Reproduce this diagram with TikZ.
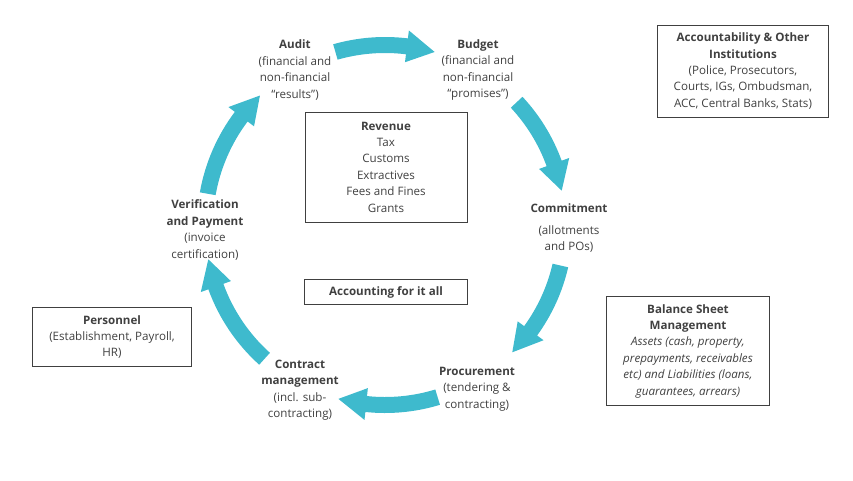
\documentclass[tikz,border=0pt]{standalone}
\usepackage{fontspec}
\setmainfont{Open Sans}
\definecolor{cyc}{RGB}{62,186,205}
\definecolor{txt}{RGB}{64,64,64}
\newcommand\cycarrow[2]{% clockwise from angle #1 to tip angle #2
  \pgfmathsetmacro\hb{#2+9}
  \fill[cyc] (#1:172) arc[start angle=#1,end angle=\hb,radius=172] -- (\hb:164) -- (#2:180)
    -- (\hb:196) -- (\hb:188) arc[start angle=\hb,end angle=#1,radius=188] -- cycle;}
\begin{document}
\begin{tikzpicture}[x=1pt,y=-1pt,
  lbl/.style={text=txt,font=\fontsize{11.6}{16.4}\selectfont,align=center,inner sep=0pt},
  box/.style={draw=txt,line width=0.8pt}]
\useasboundingbox (0,0) rectangle (853,480);
% cycle arrows
\begin{scope}[shift={(385,225)},yscale=-1]
  \cycarrow{106}{74}
  \cycarrow{43}{11}
  \cycarrow{-13}{-45}
  \cycarrow{-73}{-105}
  \cycarrow{-132}{-169}
  \cycarrow{170}{134}
\end{scope}
% stages
\node[lbl] (audit) at (295,70) {\textbf{Audit}\\(financial and\\non-financial\\“results”)};
\node[lbl] (budget) at (478,70) {\textbf{Budget}\\(financial and\\non-financial\\“promises”)};
\node[lbl,anchor=north] (commit) at (569,203) {\textbf{Commitment}\\[6pt](allotments\\and POs)};
\node[lbl] (proc) at (477,389) {\textbf{Procurement}\\(tendering \&\\contracting)};
\node[lbl] (contract) at (300,390) {\textbf{Contract}\\\textbf{management}\\(incl. sub-\\contracting)};
\node[lbl] (verif) at (205,230) {\textbf{Verification}\\\textbf{and Payment}\\(invoice\\certification)};
% boxes
\node[box,lbl,minimum width=162pt,minimum height=110pt] (rev) at (386,167)
  {\textbf{Revenue}\\Tax\\Customs\\Extractives\\Fees and Fines\\Grants};
\node[box,lbl,minimum width=163pt,minimum height=25pt] (acc) at (386,292) {\textbf{Accounting for it all}};
\node[box,lbl,minimum width=171pt,minimum height=92pt] (inst) at (743,71)
  {\textbf{Accountability \& Other}\\\textbf{Institutions}\\(Police, Prosecutors,\\Courts, IGs, Ombudsman,\\ACC, Central Banks, Stats)};
\node[box,lbl,minimum width=159pt,minimum height=59pt] (pers) at (112,337)
  {\textbf{Personnel}\\(Establishment, Payroll,\\HR)};
\node[box,lbl,minimum width=163pt,minimum height=109pt] (bal) at (688,351)
  {\textbf{Balance Sheet}\\\textbf{Management}\\\itshape Assets (cash, property,\\\itshape prepayments, receivables\\\itshape etc) and Liabilities (loans,\\\itshape guarantees, arrears)};
\end{tikzpicture}
\end{document}
